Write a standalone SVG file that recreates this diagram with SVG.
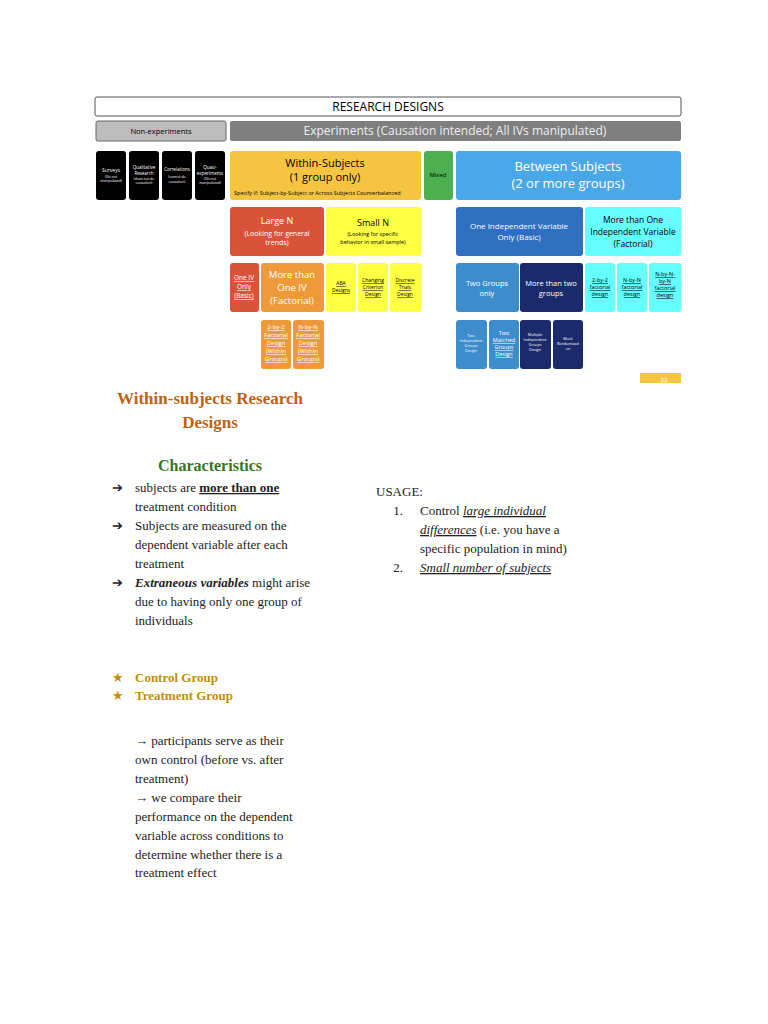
<svg xmlns="http://www.w3.org/2000/svg" width="768" height="1024" viewBox="0 0 768 1024">
<style>
.s{font-family:"Open Sans","Liberation Sans",sans-serif;text-anchor:middle}
.t{font-family:"Liberation Serif",serif;font-size:13px;fill:#222}
.u{text-decoration:underline}
rect{stroke:none}
</style>
<rect width="768" height="1024" fill="#fff"/>
<g id="title"><rect x="95" y="97" width="586" height="19" rx="2" fill="#fff" stroke="#555" style="stroke:#555"/><text class="s" x="388" y="111" font-size="12">RESEARCH DESIGNS</text></g>
<g id="nonexp"><rect x="96" y="121" width="130" height="20" rx="2" fill="#bdbdbd" style="stroke:#666"/><text class="s" x="161" y="134" font-size="7.5">Non-experiments</text></g>
<g id="exp"><rect x="230" y="121" width="451" height="20" rx="2" fill="#7f7f7f"/><text class="s" x="455" y="135" font-size="12" fill="#eee">Experiments (Causation intended; All IVs manipulated)</text></g>
<g id="surveys"><rect x="96" y="151" width="30" height="49" rx="3" fill="#000"/><text class="s" x="111" y="172" font-size="5" fill="#fff">Surveys</text><text class="s" x="111" y="178" font-size="3.5" fill="#fff">(IVs not</text><text class="s" x="111" y="182" font-size="3.5" fill="#fff">manipulated)</text></g>
<g id="qual"><rect x="129" y="151" width="30" height="49" rx="3" fill="#000"/><text class="s" x="144" y="169" font-size="4.5" fill="#fff">Qualitative</text><text class="s" x="144" y="175" font-size="4.5" fill="#fff">Research</text><text class="s" x="144" y="180" font-size="3.5" fill="#fff">(does not do</text><text class="s" x="144" y="184" font-size="3.5" fill="#fff">causation)</text></g>
<g id="corr"><rect x="162" y="151" width="30" height="49" rx="3" fill="#000"/><text class="s" x="177" y="171" font-size="4.5" fill="#fff">Correlations</text><text class="s" x="177" y="178" font-size="3.5" fill="#fff">(cannot do</text><text class="s" x="177" y="183" font-size="3.5" fill="#fff">causation)</text></g>
<g id="quasi"><rect x="195" y="151" width="30" height="49" rx="3" fill="#000"/><text class="s" x="210" y="169" font-size="4.5" fill="#fff">Quasi-</text><text class="s" x="210" y="175" font-size="4.5" fill="#fff">experiments</text><text class="s" x="210" y="180" font-size="3.5" fill="#fff">(IVs not</text><text class="s" x="210" y="184" font-size="3.5" fill="#fff">manipulated)</text></g>
<g id="within"><rect x="230" y="151" width="191" height="49" rx="3" fill="#f5c542"/><text class="s" x="325" y="167" font-size="11">Within-Subjects</text><text class="s" x="325" y="181" font-size="11">(1 group only)</text><text x="234" y="195" font-size="5.5" font-family="Open Sans,sans-serif">Specify if: Subject-by-Subject or Across Subjects Counterbalanced</text></g>
<g id="mixed"><rect x="424" y="151" width="29" height="49" rx="3" fill="#4caf50"/><text class="s" x="438" y="177" font-size="6">Mixed</text></g>
<g id="between"><rect x="456" y="151" width="225" height="49" rx="3" fill="#4aa8e8"/><text class="s" x="568" y="171" font-size="13" fill="#fff">Between Subjects</text><text class="s" x="568" y="188" font-size="13" fill="#fff">(2 or more groups)</text></g>
<g id="largeN"><rect x="230" y="207" width="94" height="49" rx="3" fill="#d9533a"/><text class="s" x="277" y="224" font-size="9" fill="#fff">Large N</text><text class="s" x="277" y="236" font-size="7" fill="#fff">(Looking for general</text><text class="s" x="277" y="245" font-size="7" fill="#fff">trends)</text></g>
<g id="smallN"><rect x="326" y="207" width="95" height="49" rx="3" fill="#ffff44"/><text class="s" x="373" y="226" font-size="9">Small N</text><text class="s" x="373" y="236" font-size="5.5">(Looking for specific</text><text class="s" x="373" y="244" font-size="5.5">behavior in small sample)</text></g>
<g id="oneiv"><rect x="230" y="263" width="29" height="49" rx="3" fill="#d9533a"/><text class="s u" x="244" y="280" font-size="6.5" fill="#fff">One IV</text><text class="s u" x="244" y="289" font-size="6.5" fill="#fff">Only</text><text class="s u" x="244" y="298" font-size="6.5" fill="#fff">(Basic)</text></g>
<g id="moreiv"><rect x="261" y="263" width="63" height="49" rx="3" fill="#ee9a3a"/><text class="s" x="292" y="278" font-size="9.5" fill="#fff">More than</text><text class="s" x="292" y="291" font-size="9.5" fill="#fff">One IV</text><text class="s" x="292" y="304" font-size="9.5" fill="#fff">(Factorial)</text></g>
<g id="aba"><rect x="326" y="263" width="30" height="49" rx="3" fill="#ffff44"/><text class="s u" x="341" y="285" font-size="5">ABA</text><text class="s u" x="341" y="292" font-size="5">Designs</text></g>
<g id="changing"><rect x="358" y="263" width="30" height="49" rx="3" fill="#ffff44"/><text class="s u" x="373" y="282" font-size="5">Changing</text><text class="s u" x="373" y="289" font-size="5">Criterion</text><text class="s u" x="373" y="296" font-size="5">Design</text></g>
<g id="discrete"><rect x="390" y="263" width="31" height="49" rx="3" fill="#ffff44"/><text class="s u" x="405" y="282" font-size="5">Discrete</text><text class="s u" x="405" y="289" font-size="5">Trials</text><text class="s u" x="405" y="296" font-size="5">Design</text></g>
<g id="w2by2"><rect x="261" y="320" width="30" height="49" rx="3" fill="#ee9a3a"/><text class="s u" x="276" y="329" font-size="6" fill="#fff">2-by-2</text><text class="s u" x="276" y="337" font-size="6" fill="#fff">Factorial</text><text class="s u" x="276" y="345" font-size="6" fill="#fff">Design</text><text class="s u" x="276" y="353" font-size="6" fill="#fff">(Within</text><text class="s u" x="276" y="361" font-size="6" fill="#fff">Groups)</text></g>
<g id="wnbyn"><rect x="293" y="320" width="31" height="49" rx="3" fill="#ee9a3a"/><text class="s u" x="308" y="329" font-size="6" fill="#fff">N-by-N</text><text class="s u" x="308" y="337" font-size="6" fill="#fff">Factorial</text><text class="s u" x="308" y="345" font-size="6" fill="#fff">Design</text><text class="s u" x="308" y="353" font-size="6" fill="#fff">(Within</text><text class="s u" x="308" y="361" font-size="6" fill="#fff">Groups)</text></g>
<g id="bone"><rect x="456" y="207" width="127" height="49" rx="3" fill="#2e6fc0"/><text class="s" x="519" y="229" font-size="8" fill="#fff">One Independent Variable</text><text class="s" x="519" y="240" font-size="8" fill="#fff">Only (Basic)</text></g>
<g id="bmore"><rect x="585" y="207" width="96" height="49" rx="3" fill="#66ffff"/><text class="s" x="633" y="223" font-size="8.5">More than One</text><text class="s" x="633" y="235" font-size="8.5">Independent Variable</text><text class="s" x="633" y="247" font-size="8.5">(Factorial)</text></g>
<g id="twogroups"><rect x="456" y="263" width="63" height="49" rx="3" fill="#3d8ccc"/><text class="s" x="487" y="286" font-size="7.5" fill="#fff">Two Groups</text><text class="s" x="487" y="296" font-size="7.5" fill="#fff">only</text></g>
<g id="morethantwo"><rect x="520" y="263" width="63" height="49" rx="3" fill="#1a2a6a"/><text class="s" x="551" y="286" font-size="7.5" fill="#fff">More than two</text><text class="s" x="551" y="296" font-size="7.5" fill="#fff">groups</text></g>
<g id="b2by2"><rect x="585" y="263" width="30" height="49" rx="3" fill="#66ffff"/><text class="s u" x="600" y="282" font-size="5.5">2-by-2</text><text class="s u" x="600" y="289" font-size="5.5">factorial</text><text class="s u" x="600" y="296" font-size="5.5">design</text></g>
<g id="bnbyn"><rect x="617" y="263" width="30" height="49" rx="3" fill="#66ffff"/><text class="s u" x="632" y="282" font-size="5.5">N-by-N</text><text class="s u" x="632" y="289" font-size="5.5">factorial</text><text class="s u" x="632" y="296" font-size="5.5">design</text></g>
<g id="bnbynbyn"><rect x="649" y="263" width="32" height="49" rx="3" fill="#66ffff"/><text class="s u" x="665" y="276" font-size="5.5">N-by-N-</text><text class="s u" x="665" y="283" font-size="5.5">by-N</text><text class="s u" x="665" y="290" font-size="5.5">factorial</text><text class="s u" x="665" y="297" font-size="5.5">design</text></g>
<g id="twoindep"><rect x="456" y="320" width="31" height="49" rx="3" fill="#3d8ccc"/><text class="s" x="471" y="337" font-size="3.8" fill="#fff">Two</text><text class="s" x="471" y="342" font-size="3.8" fill="#fff">Independent</text><text class="s" x="471" y="347" font-size="3.8" fill="#fff">Groups</text><text class="s" x="471" y="352" font-size="3.8" fill="#fff">Design</text></g>
<g id="twomatched"><rect x="489" y="320" width="30" height="49" rx="3" fill="#3d8ccc"/><text class="s" x="504" y="335" font-size="5.5" fill="#fff">Two</text><text class="s u" x="504" y="342" font-size="5.5" fill="#fff">Matched</text><text class="s u" x="504" y="349" font-size="5.5" fill="#fff">Groups</text><text class="s u" x="504" y="356" font-size="5.5" fill="#fff">Design</text></g>
<g id="multiple"><rect x="520" y="320" width="31" height="49" rx="3" fill="#1a2a6a"/><text class="s" x="535" y="336" font-size="3.8" fill="#fff">Multiple</text><text class="s" x="535" y="341" font-size="3.8" fill="#fff">Independent</text><text class="s" x="535" y="346" font-size="3.8" fill="#fff">Groups</text><text class="s" x="535" y="351" font-size="3.8" fill="#fff">Design</text></g>
<g id="block"><rect x="553" y="320" width="30" height="49" rx="3" fill="#1a2a6a"/><text class="s" x="568" y="340" font-size="3.8" fill="#fff">Block</text><text class="s" x="568" y="345" font-size="3.8" fill="#fff">Randomizati</text><text class="s" x="568" y="350" font-size="3.8" fill="#fff">on</text></g>
<g id="pagenum"><rect x="640" y="373" width="41" height="10" fill="#f5c542"/><text class="s" x="664" y="382" font-size="6" fill="#fff">22</text></g>
<g id="connectors"></g>
<g font-family="Liberation Serif,serif">
<text x="210" y="404" text-anchor="middle" font-size="17" font-weight="bold" fill="#c0620e">Within-subjects Research</text>
<text x="210" y="428" text-anchor="middle" font-size="17" font-weight="bold" fill="#c0620e">Designs</text>
<text x="210" y="471" text-anchor="middle" font-size="16" font-weight="bold" fill="#38761d">Characteristics</text>
</g>
<g class="t">
<text x="112" y="492">➔</text><text x="135" y="492">subjects are <tspan font-weight="bold" class="u">more than one</tspan></text>
<text x="135" y="511">treatment condition</text>
<text x="112" y="530">➔</text><text x="135" y="530">Subjects are measured on the</text>
<text x="135" y="549">dependent variable after each</text>
<text x="135" y="568">treatment</text>
<text x="112" y="587">➔</text><text x="135" y="587"><tspan font-weight="bold" font-style="italic">Extraneous variables</tspan> might arise</text>
<text x="135" y="606">due to having only one group of</text>
<text x="135" y="625">individuals</text>
<text x="376" y="496">USAGE:</text>
<text x="398" y="515" text-anchor="middle">1.</text><text x="420" y="515">Control <tspan font-style="italic" class="u">large individual</tspan></text>
<text x="420" y="534"><tspan font-style="italic" class="u">differences</tspan> (i.e. you have a</text>
<text x="420" y="553">specific population in mind)</text>
<text x="398" y="572" text-anchor="middle">2.</text><text x="420" y="572" font-style="italic" class="u">Small number of subjects</text>
<text x="112" y="682" fill="#bf9000">★</text><text x="135" y="682" fill="#bf9000" font-weight="bold">Control Group</text>
<text x="112" y="700" fill="#bf9000">★</text><text x="135" y="700" fill="#bf9000" font-weight="bold">Treatment Group</text>
<text x="135" y="745">→ participants serve as their</text>
<text x="135" y="764">own control (before vs. after</text>
<text x="135" y="783">treatment)</text>
<text x="135" y="802">→ we compare their</text>
<text x="135" y="821">performance on the dependent</text>
<text x="135" y="840">variable across conditions to</text>
<text x="135" y="859">determine whether there is a</text>
<text x="135" y="877">treatment effect</text>
</g>
</svg>
